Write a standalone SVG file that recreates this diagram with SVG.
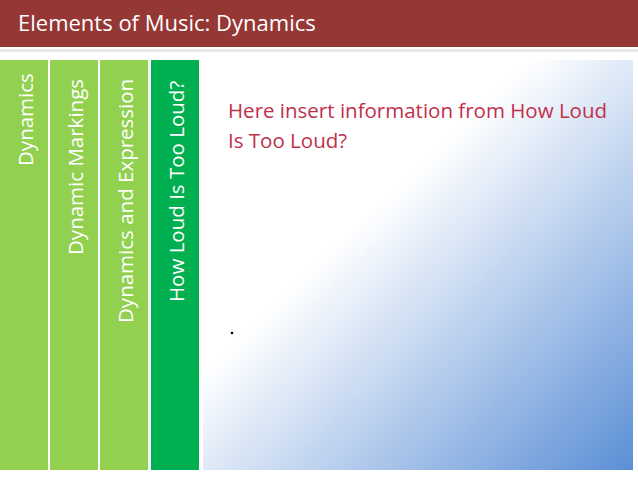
<svg xmlns="http://www.w3.org/2000/svg" width="638" height="478" viewBox="0 0 638 478">
<defs>
<linearGradient id="g" x1="0" y1="0" x2="1" y2="1">
<stop offset="0.38" stop-color="#ffffff"/>
<stop offset="1" stop-color="#5b8fd6"/>
</linearGradient>
<style>
.tab{fill:#92d050}
.vt{font-family:"Open Sans","Liberation Sans",sans-serif;font-size:20.5px;fill:#fff}
</style>
</defs>
<rect width="638" height="478" fill="#fff"/>
<g id="title"><rect width="638" height="47" fill="#953735"/>
<text x="18" y="31" font-family="Open Sans, Liberation Sans, sans-serif" font-size="22" fill="#fff">Elements of Music: Dynamics</text></g>
<rect x="0" y="49" width="638" height="3" fill="#e8e8e8"/>
<g id="panel"><rect x="203" y="60" width="430" height="410" fill="url(#g)"/>
<polygon points="200,83 218,100 200,118" fill="#fff"/>
<text x="228" y="118" font-family="Open Sans, Liberation Sans, sans-serif" font-size="20.5" fill="#c0304a">Here insert information from How Loud</text>
<text x="228" y="148" font-family="Open Sans, Liberation Sans, sans-serif" font-size="20.5" fill="#c0304a">Is Too Loud?</text>
<circle cx="232" cy="333" r="1.3" fill="#000"/></g>
<g id="tab1"><rect class="tab" x="0" y="60" width="48" height="410"/><text class="vt" transform="translate(33,166) rotate(-90)">Dynamics</text></g>
<g id="tab2"><rect class="tab" x="50" y="60" width="48" height="410"/><text class="vt" transform="translate(83,255) rotate(-90)">Dynamic Markings</text></g>
<g id="tab3"><rect class="tab" x="100" y="60" width="48" height="410"/><text class="vt" transform="translate(133,323) rotate(-90)">Dynamics and Expression</text></g>
<g id="tab4"><rect x="151" y="60" width="48" height="410" fill="#00b050"/><text class="vt" transform="translate(184,302) rotate(-90)">How Loud Is Too Loud?</text></g>
<g id="connectors"/>
</svg>
